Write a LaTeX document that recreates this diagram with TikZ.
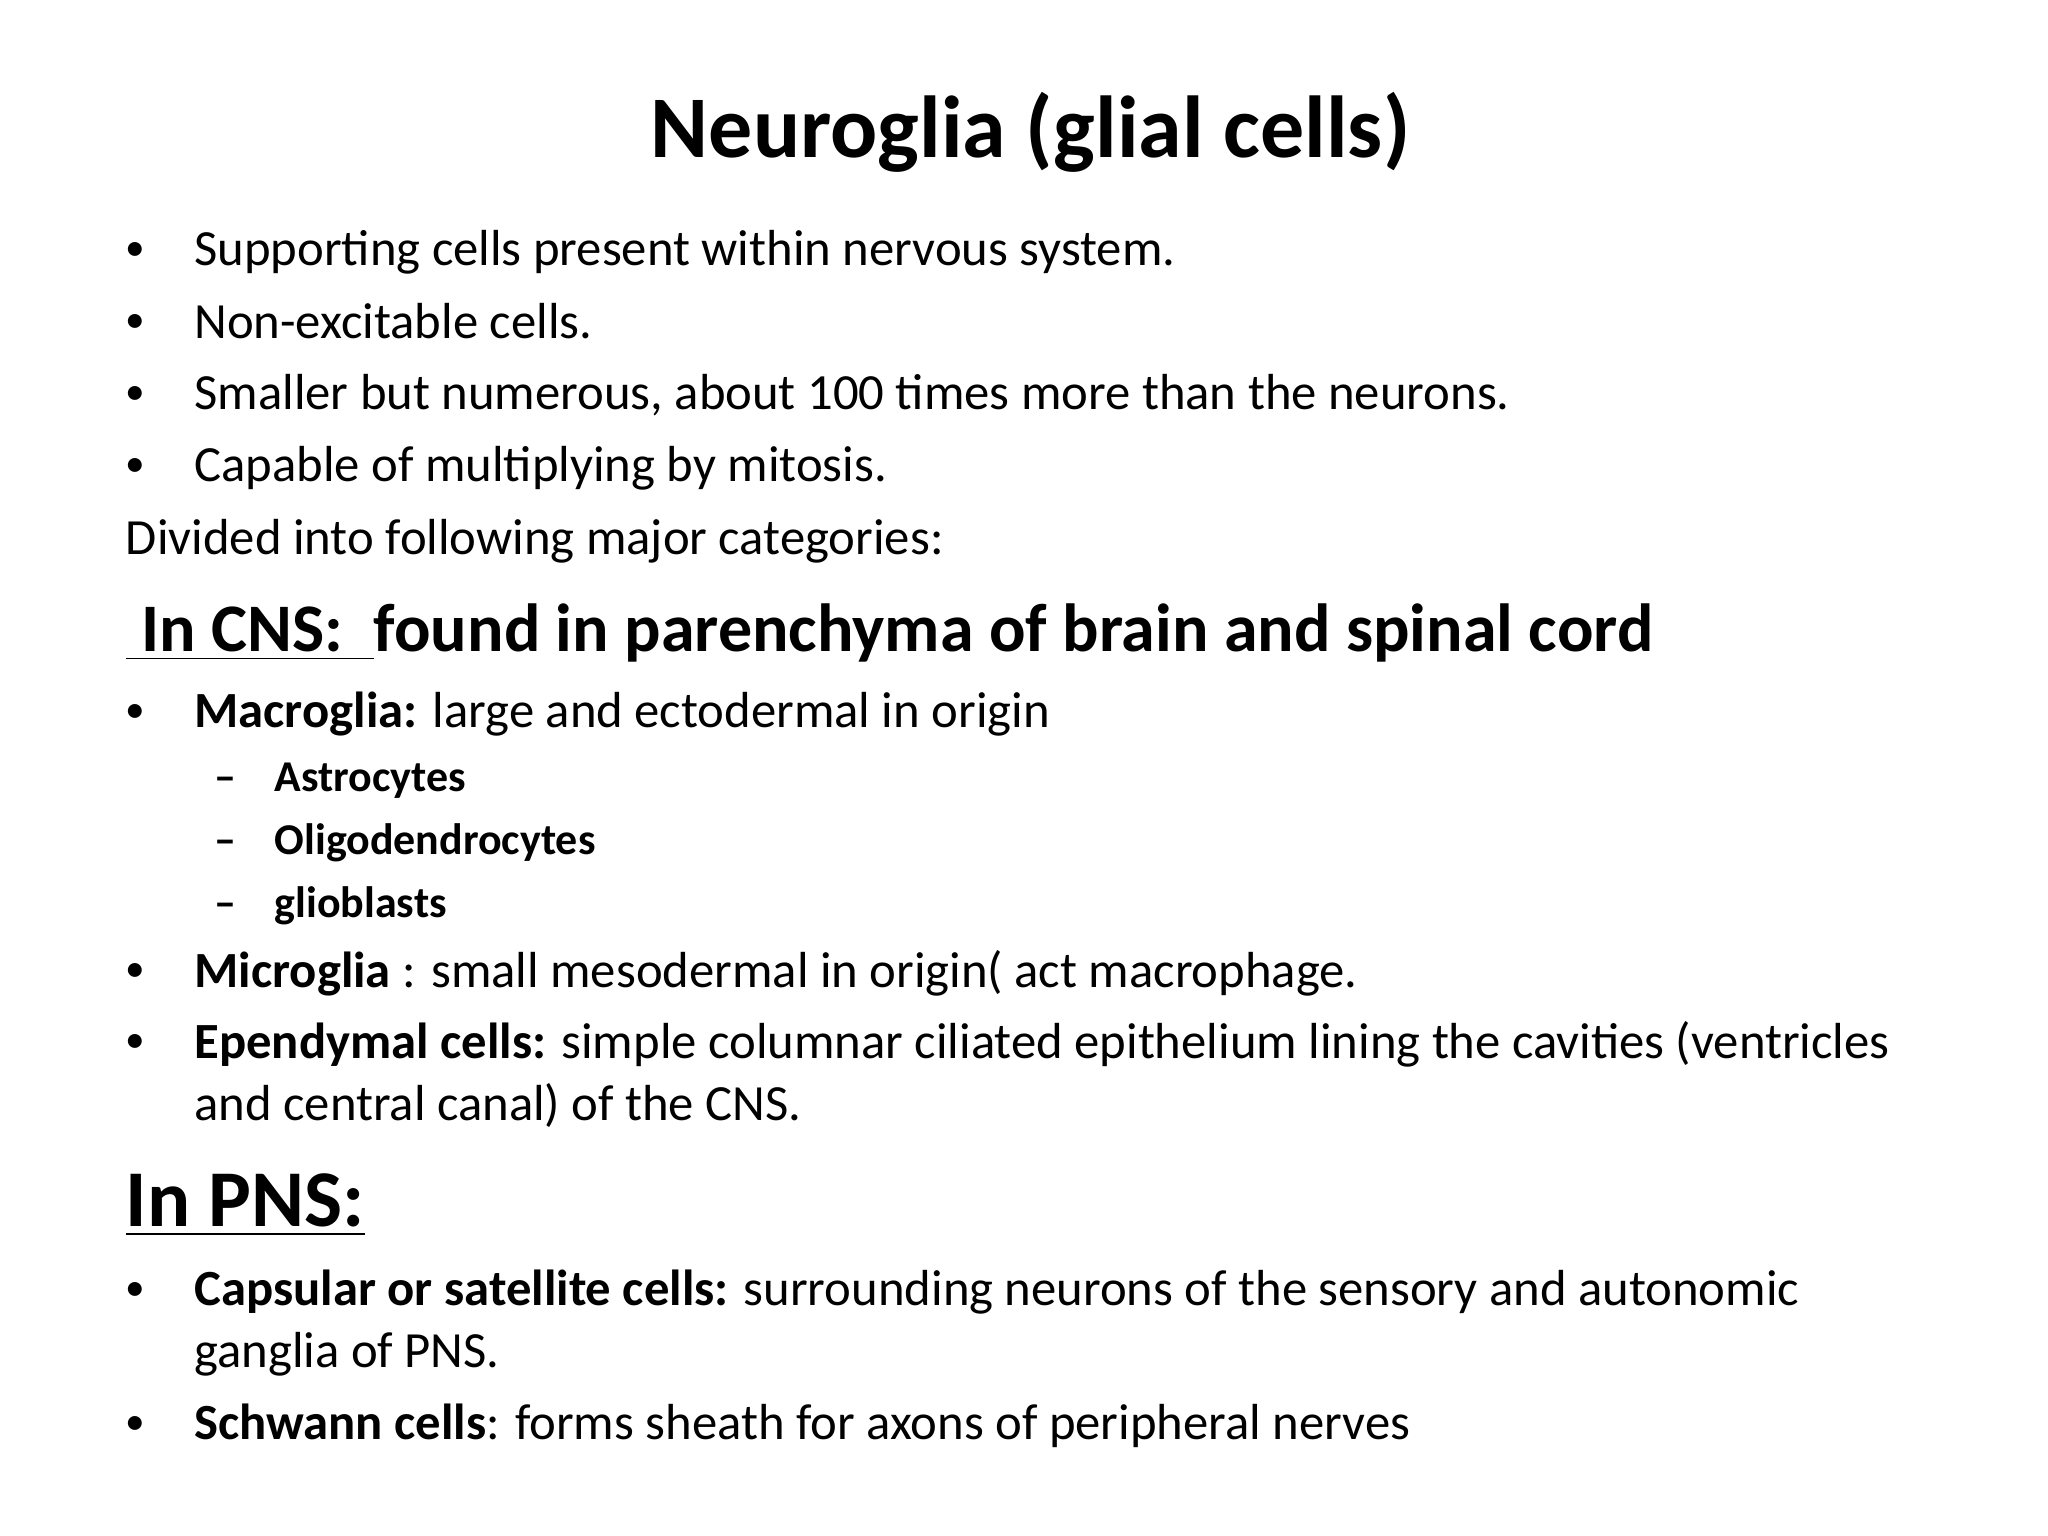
\documentclass[tikz,border=0pt]{standalone}
\usepackage{fontspec}
\setmainfont{Carlito}
\begin{document}
\begin{tikzpicture}[x=0.01cm,y=-0.01cm,
  tx/.style={anchor=base west,inner sep=0pt,font=\fontsize{10.95}{13}\selectfont},
  sub/.style={anchor=base west,inner sep=0pt,font=\fontsize{9.5}{11}\selectfont\bfseries},
  bul/.style={anchor=base west,inner sep=0pt,font=\fontsize{8.5}{10}\selectfont}]
\useasboundingbox (0,0) rectangle (1556,1167);
\node[anchor=base,inner sep=0pt,font=\fontsize{19}{22}\selectfont\bfseries] (title) at (783,120) {Neuroglia (glial cells)};
\foreach \y/\t [count=\i] in {202/{Supporting cells present within nervous system.},257/{Non-excitable cells.},311/{Smaller but numerous, about 100 times more than the neurons.},366/{Capable of multiplying by mitosis.}}{
  \node[bul] (b\i) at (95,\y-4) {•};
  \node[tx] (l\i) at (147,\y) {\t};
}
\node[tx] (div) at (95,421) {Divided into following major categories:};
\node[anchor=base west,inner sep=0pt,font=\fontsize{14.7}{17}\selectfont\bfseries] (cns) at (95,495) {\underline{\ In CNS:\ \ }found in parenchyma of brain and spinal cord};
\node[bul] (b5) at (95,549) {•};
\node[tx] (mac) at (147,553) {\textbf{Macroglia:} large and ectodermal in origin};
\foreach \y/\t [count=\i] in {601/Astrocytes,649/Oligodendrocytes,697/glioblasts}{
  \node[sub] (d\i) at (162,\y) {–};
  \node[sub] (s\i) at (208,\y) {\t};
}
\node[bul] (b6) at (95,746) {•};
\node[tx] (mic) at (147,750) {\textbf{Microglia} : small mesodermal in origin( act macrophage.};
\node[bul] (b7) at (95,800) {•};
\node[tx] (ep1) at (147,804) {\textbf{Ependymal cells:} simple columnar ciliated epithelium lining the cavities (ventricles};
\node[tx] (ep2) at (147,851) {and central canal) of the CNS.};
\node[anchor=base west,inner sep=0pt,font=\fontsize{17.4}{20}\selectfont\bfseries] (pns) at (95,932) {\underline{In PNS:}};
\node[bul] (b8) at (95,988) {•};
\node[tx] (ca1) at (147,992) {\textbf{Capsular or satellite cells:} surrounding neurons of the sensory and autonomic};
\node[tx] (ca2) at (147,1039) {ganglia of PNS.};
\node[bul] (b9) at (95,1090) {•};
\node[tx] (sch) at (147,1094) {\textbf{Schwann cells}: forms sheath for axons of peripheral nerves};
\end{tikzpicture}
\end{document}
